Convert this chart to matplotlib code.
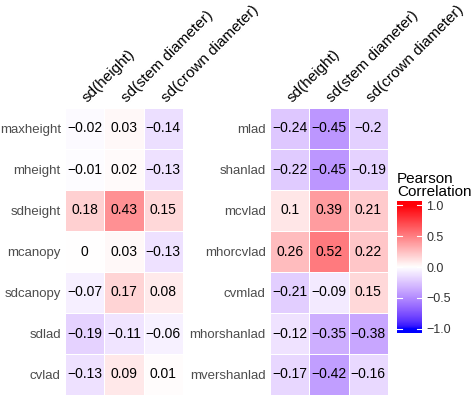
import numpy as np
import matplotlib
matplotlib.use("Agg")
import matplotlib.pyplot as plt
from matplotlib.colors import ListedColormap, Normalize

plt.rcParams['font.family'] = ['Liberation Sans', 'DejaVu Sans']

# data
cols = ["sd(height)", "sd(stem diameter)", "sd(crown diameter)"]
rows_left = ["maxheight", "mheight", "sdheight", "mcanopy", "sdcanopy", "sdlad", "cvlad"]
vals_left = [[-0.02, 0.03, -0.14],
             [-0.01, 0.02, -0.13],
             [0.18, 0.43, 0.15],
             [0, 0.03, -0.13],
             [-0.07, 0.17, 0.08],
             [-0.19, -0.11, -0.06],
             [-0.13, 0.09, 0.01]]
rows_right = ["mlad", "shanlad", "mcvlad", "mhorcvlad", "cvmlad", "mhorshanlad", "mvershanlad"]
vals_right = [[-0.24, -0.45, -0.2],
              [-0.22, -0.45, -0.19],
              [0.1, 0.39, 0.21],
              [0.26, 0.52, 0.22],
              [-0.21, -0.09, 0.15],
              [-0.12, -0.35, -0.38],
              [-0.17, -0.42, -0.16]]
cbar_ticks = [1.0, 0.5, 0.0, -0.5, -1.0]


#   blue side interpolated in Lab (purplish), red side straight rgb (pinkish)
def srgb_to_lab(rgb):
    rgb = np.asarray(rgb, float)
    lin = np.where(rgb <= 0.04045, rgb / 12.92, ((rgb + 0.055) / 1.055) ** 2.4)
    M = np.array([[0.4124, 0.3576, 0.1805],
                  [0.2126, 0.7152, 0.0722],
                  [0.0193, 0.1192, 0.9505]])
    xyz = M @ lin / np.array([0.95047, 1.0, 1.08883])
    f = np.where(xyz > 0.008856, np.cbrt(xyz), 7.787 * xyz + 16 / 116)
    return np.array([116 * f[1] - 16, 500 * (f[0] - f[1]), 200 * (f[1] - f[2])])


def lab_to_srgb(lab):
    L, a, b = lab
    fy = (L + 16) / 116
    fx = fy + a / 500
    fz = fy - b / 200
    f = np.array([fx, fy, fz])
    xyz = np.where(f ** 3 > 0.008856, f ** 3, (f - 16 / 116) / 7.787)
    xyz = xyz * np.array([0.95047, 1.0, 1.08883])
    Minv = np.array([[3.2406, -1.5372, -0.4986],
                     [-0.9689, 1.8758, 0.0415],
                     [0.0557, -0.2040, 1.0570]])
    lin = Minv @ xyz
    rgb = np.where(lin <= 0.0031308, 12.92 * lin, 1.055 * np.abs(lin) ** (1 / 2.4) - 0.055)
    return np.clip(rgb, 0, 1)


low, mid = srgb_to_lab([0, 0, 1]), srgb_to_lab([1, 1, 1])
cl = []
for t in np.linspace(0, 1, 256):
    if t < 0.5:
        cl.append(lab_to_srgb(low + (mid - low) * (t / 0.5)))
    else:
        u = (t - 0.5) / 0.5
        cl.append(np.array([1.0, 1 - u, 1 - u * 0.97]))
cmap = ListedColormap(cl)
norm = Normalize(-1, 1)


def fmt(v):
    return f"{v:g}".replace("-", "\u2212")


fig = plt.figure(figsize=(4.74, 3.97), dpi=100)
W, H = 474, 397


def heat(x0, rows, vals):
    ax = fig.add_axes([x0 / W, 1 - 395 / H, 118 / W, 287 / H])
    v = np.array(vals)
    ax.pcolormesh(v, cmap=cmap, norm=norm, edgecolors='white', linewidth=0.4)
    ax.set_xlim(0, 3)
    ax.set_ylim(7, 0)
    for i in range(len(rows)):
        for j in range(3):
            ax.text(j + 0.5, i + 0.5, fmt(v[i, j]), ha='center', va='center',
                    fontsize=10, color='black')
    ax.set_yticks(np.arange(7) + 0.5)
    ax.set_yticklabels(rows, fontsize=9.5, color='#4D4D4D')
    ax.tick_params(axis='y', length=0, pad=3)
    ax.set_xticks([])
    for s in ax.spines.values():
        s.set_visible(False)
    for j, c in enumerate(cols):
        ax.text(j + 0.58, -0.12, c, rotation=45, rotation_mode='anchor',
                ha='left', va='baseline', fontsize=11, color='black',
                clip_on=False)
    return ax


heat(65, rows_left, vals_left)
heat(270, rows_right, vals_right)

#       colour bar
cax = fig.add_axes([397 / W, 1 - 333 / H, 25 / W, 132 / H])
lim = 1.065
grad = np.linspace(-lim, lim, 300).reshape(-1, 1)
cax.imshow(grad, cmap=cmap, norm=norm, aspect='auto', origin='lower',
           extent=[0, 1, -lim, lim])
cax.set_xlim(0, 1)
cax.set_ylim(-lim, lim)
cax.set_xticks([])
cax.yaxis.tick_right()
cax.set_yticks(cbar_ticks)
cax.set_yticklabels([f"{t:.1f}".replace("-", "\u2212") for t in cbar_ticks], fontsize=9, color='#333333')
cax.tick_params(axis='y', length=0, pad=3)
for t in cbar_ticks:
    cax.plot([0, 0.2], [t, t], color='white', lw=0.8)
    cax.plot([0.8, 1], [t, t], color='white', lw=0.8)
for s in cax.spines.values():
    s.set_visible(False)
fig.text(397 / W, 1 - 172 / H, "Pearson\nCorrelation", ha='left', va='top',
         fontsize=11, color='black', linespacing=0.92)

fig.savefig("out.png", dpi=100)
